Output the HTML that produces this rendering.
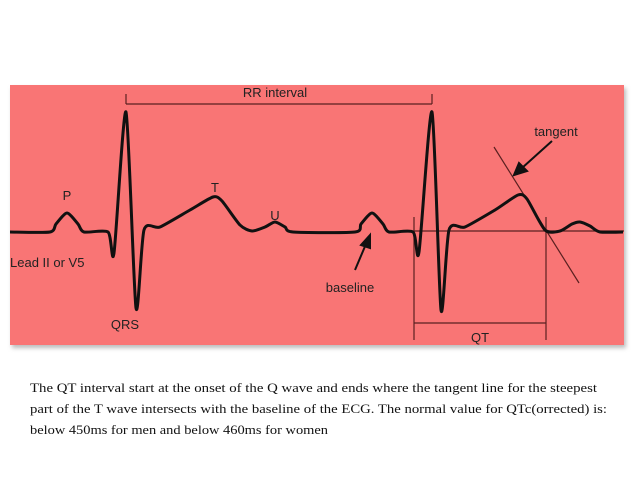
<!DOCTYPE html>
<html><head><meta charset="utf-8"><style>
html,body{margin:0;padding:0;background:#fff;width:638px;height:480px;overflow:hidden}
svg{display:block}
.lbl{font-family:"Liberation Sans",sans-serif;font-size:13px;fill:#222}
.cap{font-family:"Liberation Serif",serif;font-size:13px;fill:#111}
</style></head><body>
<svg width="638" height="480" viewBox="0 0 638 480">
<defs><filter id="sh" x="-5%" y="-5%" width="110%" height="115%"><feGaussianBlur stdDeviation="2"/></filter></defs>
<rect x="12" y="88" width="614" height="260" fill="#bbb" filter="url(#sh)"/>
<rect x="10" y="85" width="614" height="260" fill="#f97575"/>
<g id="marks" stroke="#5a2020" stroke-width="1.2" fill="none">
<line x1="126" y1="104" x2="432" y2="104"/>
<line x1="126" y1="94" x2="126" y2="104"/>
<line x1="432" y1="94" x2="432" y2="104"/>
<line x1="414" y1="231" x2="624" y2="231"/>
<line x1="414" y1="217" x2="414" y2="340"/>
<line x1="546" y1="217" x2="546" y2="340"/>
<line x1="414" y1="323" x2="546" y2="323"/>
<line x1="494" y1="147" x2="579" y2="283"/>
</g>
<path id="ecg" fill="none" stroke="#111" stroke-width="3" stroke-linejoin="round"/>
<g stroke="#111" stroke-width="2" fill="#111">
<line x1="552" y1="141" x2="522" y2="168"/>
<polygon points="514,175 519,163 527,171"/>
<line x1="355" y1="270" x2="366" y2="244"/>
<polygon points="370,235 361,245 370,248"/>
</g>
<text class="lbl" x="275" y="97" text-anchor="middle">RR interval</text>
<text class="lbl" x="67" y="200" text-anchor="middle">P</text>
<text class="lbl" x="215" y="192" text-anchor="middle">T</text>
<text class="lbl" x="275" y="220" text-anchor="middle">U</text>
<text class="lbl" x="125" y="329" text-anchor="middle">QRS</text>
<text class="lbl" x="10" y="267">Lead II or V5</text>
<text class="lbl" x="350" y="292" text-anchor="middle">baseline</text>
<text class="lbl" x="556" y="136" text-anchor="middle">tangent</text>
<text class="lbl" x="480" y="342" text-anchor="middle">QT</text>
<g>
<text class="cap" x="30" y="392" textLength="567" lengthAdjust="spacingAndGlyphs">The QT interval start at the onset of the Q wave and ends where the tangent line for the steepest</text>
<text class="cap" x="30" y="413" textLength="577" lengthAdjust="spacingAndGlyphs">part of the T wave intersects with the baseline of the ECG. The normal value for QTc(orrected) is:</text>
<text class="cap" x="30" y="434" textLength="298" lengthAdjust="spacingAndGlyphs">below 450ms for men and below 460ms for women</text>
</g>
</svg>
<script>
// ECG trace samples (x pixel, y pixel)
const traceX = [10,50,56,67,78,84,108,114,126,136,144,160,190,213,222,240,252,265,275,285,293,355,361,372,383,389,413,419,432,441,449,465,495,518,527,545,560,572,580,590,600,623];
const traceY = [232,232,224,213,224,232,232,253,112,308,230,227,210,197,201,225,231,227,222,227,232,232,224,213,224,232,232,252,112,310,230,227,210,195,199,230,231,224,222,226,232,232];
const path = document.getElementById('ecg');
let d = 'M' + traceX[0] + ' ' + traceY[0];
const k = 0.12;
for (let i = 0; i < traceX.length - 1; i++) {
  const i0 = Math.max(0, i - 1), i3 = Math.min(traceX.length - 1, i + 2);
  const c1x = traceX[i] + (traceX[i + 1] - traceX[i0]) * k;
  const c1y = traceY[i] + (traceY[i + 1] - traceY[i0]) * k;
  const c2x = traceX[i + 1] - (traceX[i3] - traceX[i]) * k;
  const c2y = traceY[i + 1] - (traceY[i3] - traceY[i]) * k;
  d += ' C' + c1x.toFixed(1) + ' ' + c1y.toFixed(1) + ' ' + c2x.toFixed(1) + ' ' + c2y.toFixed(1) + ' ' + traceX[i + 1] + ' ' + traceY[i + 1];
}
path.setAttribute('d', d);
</script>
</body></html>
